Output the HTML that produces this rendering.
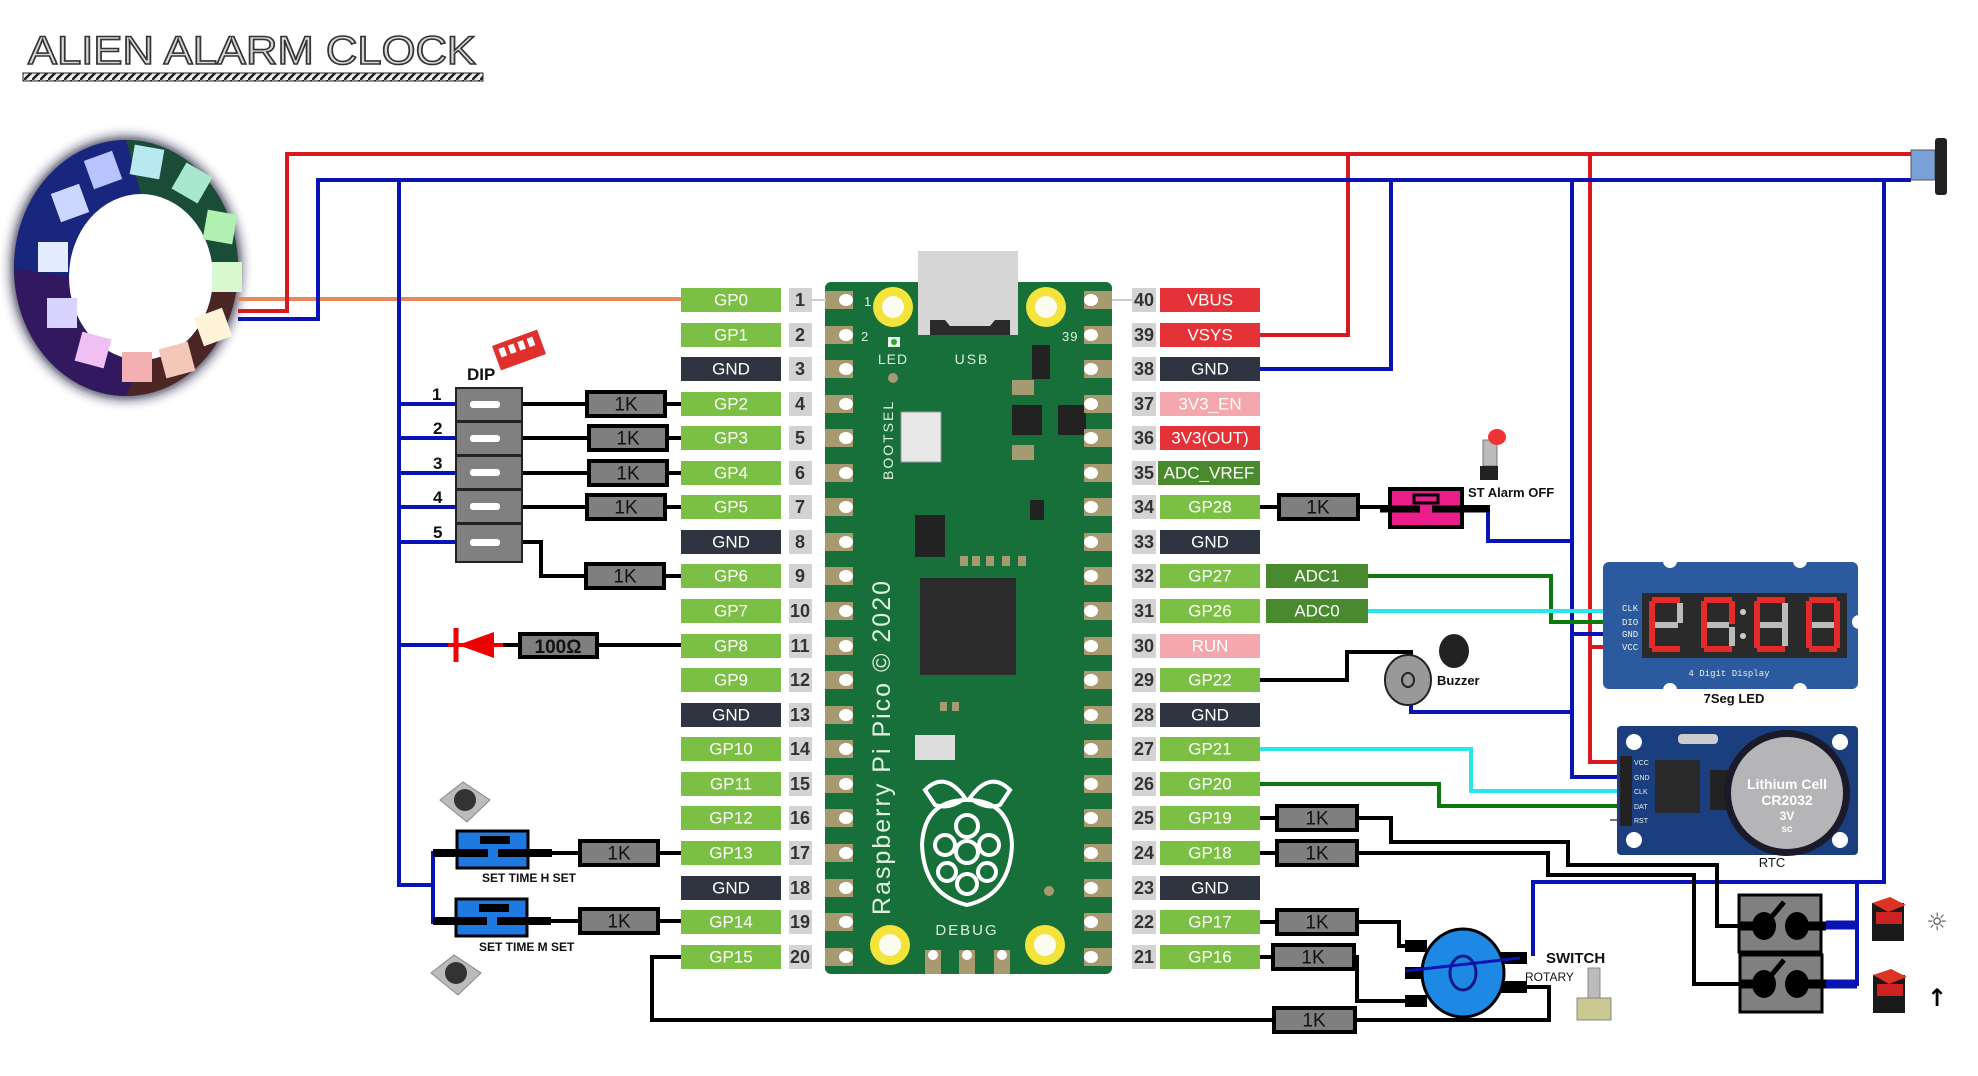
<!DOCTYPE html>
<html><head><meta charset="utf-8"><style>
html,body{margin:0;padding:0;background:#fff;}
svg{display:block;}
.pl{font-family:"Liberation Sans",sans-serif;font-size:17px;fill:#fff;text-anchor:middle;dominant-baseline:central;}
.pn{font-family:"Liberation Sans",sans-serif;font-size:18px;font-weight:bold;fill:#333;text-anchor:middle;dominant-baseline:central;}
.rs{font-family:"Liberation Sans",sans-serif;font-size:19px;fill:#111;text-anchor:middle;dominant-baseline:central;}
.bk{font-family:"Liberation Sans",sans-serif;font-weight:bold;fill:#111;}
.w{fill:none;stroke-width:4;stroke-linejoin:miter;}
</style></head><body>
<svg width="1978" height="1076" viewBox="0 0 1978 1076" xmlns="http://www.w3.org/2000/svg">
<defs>
<filter id="bl" x="-20%" y="-20%" width="140%" height="140%"><feGaussianBlur stdDeviation="6"/></filter>
<pattern id="hatch" width="8" height="8" patternUnits="userSpaceOnUse"><rect width="8" height="8" fill="#eee"/><path d="M0 8 L8 0" stroke="#222" stroke-width="2.5"/></pattern>
</defs>

<!-- Title -->
<text x="28" y="64" font-family="Liberation Sans, sans-serif" font-size="40" textLength="448" lengthAdjust="spacingAndGlyphs" fill="#d8d8d8" stroke="#333" stroke-width="1.6">ALIEN ALARM CLOCK</text>
<rect x="23" y="73" width="460" height="8" fill="url(#hatch)" stroke="#222" stroke-width="1"/>

<!-- LED ring -->
<g>
<ellipse cx="126" cy="268" rx="114" ry="130" fill="#1a1a3a" filter="url(#bl)"/>
<ellipse cx="126" cy="268" rx="112" ry="128" fill="#141433"/>
<path d="M126 140 A112 128 0 0 1 238 268 L213 268 A72 83 0 0 0 141 195 Z" fill="#1c5a3a" opacity="0.8"/>
<path d="M238 268 A112 128 0 0 1 126 396 L141 360 A72 83 0 0 0 213 268 Z" fill="#5a2a20" opacity="0.8"/>
<path d="M126 396 A112 128 0 0 1 14 268 L69 277 A72 83 0 0 0 141 360 Z" fill="#3a1a6a" opacity="0.8"/>
<path d="M14 268 A112 128 0 0 1 126 140 L141 195 A72 83 0 0 0 69 277 Z" fill="#1a2a90" opacity="0.8"/>
<ellipse cx="141" cy="277" rx="72" ry="83" fill="#fff"/>
<g stroke="none">
<rect x="88" y="155" width="30" height="30" fill="#b8c4ff" transform="rotate(-20 103 170)"/>
<rect x="132" y="147" width="30" height="30" fill="#b8e8f0" transform="rotate(10 147 162)"/>
<rect x="177" y="168" width="30" height="30" fill="#a8e8d0" transform="rotate(30 192 183)"/>
<rect x="205" y="212" width="30" height="30" fill="#b0f0b0" transform="rotate(10 220 227)"/>
<rect x="212" y="262" width="30" height="30" fill="#d8f8d0"/>
<rect x="198" y="312" width="30" height="30" fill="#fff4d8" transform="rotate(-20 213 327)"/>
<rect x="162" y="345" width="30" height="30" fill="#f4c8b8" transform="rotate(-15 177 360)"/>
<rect x="122" y="352" width="30" height="30" fill="#f4b0b0"/>
<rect x="78" y="335" width="30" height="30" fill="#f0c0f4" transform="rotate(15 93 350)"/>
<rect x="47" y="298" width="30" height="30" fill="#d8d4ff"/>
<rect x="38" y="242" width="30" height="30" fill="#e4ecff"/>
<rect x="55" y="188" width="30" height="30" fill="#ccd6ff" transform="rotate(-20 70 203)"/>
</g>
</g>

<!-- Wires -->
<polyline class="w" stroke="#e8875a" points="238,299 681,299"/>
<polyline class="w" stroke="#d71920" points="238,311 287,311 287,154 1915,154"/>
<polyline class="w" stroke="#d71920" points="1348,154 1348,335 1259,335"/>
<polyline class="w" stroke="#d71920" points="1590,154 1590,762 1622,762"/>
<polyline class="w" stroke="#d71920" stroke-width="5" points="1590,647 1625,647"/>
<polyline class="w" stroke="#0a14b4" points="238,319 318,319 318,180 1911,180"/>
<polyline class="w" stroke="#0a14b4" points="1391,180 1391,369 1259,369"/>
<polyline class="w" stroke="#0a14b4" points="1572,180 1572,777 1622,777"/>
<polyline class="w" stroke="#0a14b4" stroke-width="5" points="1572,634 1625,634"/>
<polyline class="w" stroke="#0a14b4" points="1488,507 1488,541 1572,541"/>
<polyline class="w" stroke="#0a14b4" points="1411,700 1411,712 1572,712"/>
<polyline class="w" stroke="#0a14b4" points="399,180 399,885 433,885"/>
<polyline class="w" stroke="#0a14b4" points="433,851 433,924"/>
<g class="w" stroke="#0a14b4">
<line x1="399" y1="404" x2="456" y2="404"/><line x1="399" y1="438" x2="456" y2="438"/>
<line x1="399" y1="473" x2="456" y2="473"/><line x1="399" y1="507" x2="456" y2="507"/>
<line x1="399" y1="542" x2="456" y2="542"/><line x1="399" y1="645" x2="452" y2="645"/>
</g>
<polyline class="w" stroke="#0a14b4" points="1884,180 1884,882 1533,882 1533,956"/>
<polyline class="w" stroke="#0a14b4" points="1857,882 1857,986"/>
<line x1="1826" y1="925" x2="1857" y2="925" stroke="#0a14b4" stroke-width="9"/>
<line x1="1826" y1="984" x2="1857" y2="984" stroke="#0a14b4" stroke-width="9"/>
<polyline class="w" stroke="#0a7a0a" points="1368,576 1551,576 1551,622 1625,622"/>
<polyline class="w" stroke="#0a7a0a" points="1259,784 1439,784 1439,806 1622,806"/>
<polyline class="w" stroke="#27e6f0" points="1368,611 1625,611"/>
<polyline class="w" stroke="#27e6f0" points="1259,749 1471,749 1471,791 1622,791"/>
<line x1="1610" y1="820" x2="1622" y2="820" stroke="#777" stroke-width="2"/>

<!-- black wires -->
<g class="w" stroke="#000">
<polyline points="1259,507 1279,507"/><polyline points="1358,507 1390,507"/><polyline points="1462,507 1490,507"/>
<polyline points="1259,680 1347,680 1347,652 1411,652 1411,660"/>
<polyline points="1259,818 1277,818"/><polyline points="1357,818 1391,818 1391,842 1568,842 1568,865 1717,865 1717,926 1740,926"/>
<polyline points="1259,853 1277,853"/><polyline points="1357,853 1548,853 1548,875 1694,875 1694,984 1740,984"/>
<polyline points="1259,922 1277,922"/><polyline points="1357,922 1399,922 1399,946 1420,946"/>
<polyline points="1259,957 1273,957"/><polyline points="1354,957 1357,957 1357,1001 1420,1001"/>
<polyline points="681,957 652,957 652,1020 1274,1020"/><polyline points="1355,1020 1549,1020 1549,987 1520,987"/>
<polyline points="522,404 587,404"/><polyline points="665,404 681,404"/>
<polyline points="522,438 589,438"/><polyline points="667,438 681,438"/>
<polyline points="522,473 589,473"/><polyline points="667,473 681,473"/>
<polyline points="522,507 587,507"/><polyline points="665,507 681,507"/>
<polyline points="522,542 541,542 541,576 586,576"/><polyline points="664,576 681,576"/>
<polyline points="497,645 520,645"/><polyline points="597,645 681,645"/>
<polyline points="528,853 580,853"/><polyline points="658,853 681,853"/>
<polyline points="528,921 580,921"/><polyline points="658,921 681,921"/>
</g>

<!-- Resistors -->
<g fill="#7f7f7f" stroke="#000" stroke-width="4">
<rect x="587" y="392" width="78" height="24"/><rect x="589" y="426" width="78" height="24"/>
<rect x="589" y="461" width="78" height="24"/><rect x="587" y="495" width="78" height="24"/>
<rect x="586" y="564" width="78" height="24"/><rect x="520" y="634" width="77" height="23"/>
<rect x="580" y="841" width="78" height="24"/><rect x="580" y="909" width="78" height="24"/>
<rect x="1279" y="495" width="79" height="24"/>
<rect x="1277" y="806" width="80" height="24"/><rect x="1277" y="841" width="80" height="24"/>
<rect x="1277" y="910" width="80" height="24"/><rect x="1273" y="945" width="81" height="24"/>
<rect x="1274" y="1008" width="81" height="24"/>
</g>
<g class="rs">
<text x="626" y="405">1K</text><text x="628" y="439">1K</text><text x="628" y="474">1K</text><text x="626" y="508">1K</text>
<text x="625" y="577">1K</text><text x="619" y="854">1K</text><text x="619" y="922">1K</text>
<text x="1318" y="508">1K</text><text x="1317" y="819">1K</text><text x="1317" y="854">1K</text>
<text x="1317" y="923">1K</text><text x="1313" y="958">1K</text><text x="1314" y="1021">1K</text>
</g>
<text x="558" y="653" class="bk" font-size="19" text-anchor="middle">100Ω</text>

<!-- Diode -->
<line x1="448" y1="645" x2="503" y2="645" stroke="#e00" stroke-width="4"/>
<polygon points="458,645 494,632 494,658" fill="#e00"/>
<line x1="456" y1="628" x2="456" y2="662" stroke="#e00" stroke-width="5"/>

<!-- DIP switch -->
<g fill="#808080" stroke="#222" stroke-width="2">
<rect x="456" y="388" width="66" height="33"/><rect x="456" y="422" width="66" height="33"/>
<rect x="456" y="456" width="66" height="33"/><rect x="456" y="490" width="66" height="33"/>
<rect x="456" y="524" width="66" height="38"/>
</g>
<g fill="#fff"><rect x="470" y="401" width="30" height="7" rx="3"/><rect x="470" y="435" width="30" height="7" rx="3"/><rect x="470" y="469" width="30" height="7" rx="3"/><rect x="470" y="503" width="30" height="7" rx="3"/><rect x="470" y="539" width="30" height="7" rx="3"/></g>
<g class="bk" font-size="17"><text x="432" y="400">1</text><text x="433" y="434">2</text><text x="433" y="469">3</text><text x="433" y="503">4</text><text x="433" y="538">5</text></g>
<text x="467" y="380" class="bk" font-size="17">DIP</text>
<g transform="rotate(-20 519 350)"><rect x="495" y="337" width="48" height="26" fill="#e0302e"/><g fill="#fff"><rect x="500" y="342" width="6" height="9"/><rect x="510" y="342" width="6" height="9"/><rect x="520" y="342" width="6" height="9"/><rect x="530" y="342" width="6" height="9"/></g></g>

<!-- Buttons -->
<rect x="457" y="831" width="71" height="37" fill="#1e7ae0" stroke="#000" stroke-width="3"/>
<rect x="480" y="836" width="30" height="8" fill="#000"/>
<line x1="433" y1="853" x2="488" y2="853" stroke="#000" stroke-width="8"/><line x1="498" y1="853" x2="552" y2="853" stroke="#000" stroke-width="8"/>
<rect x="456" y="899" width="71" height="37" fill="#1e7ae0" stroke="#000" stroke-width="3"/>
<rect x="479" y="904" width="30" height="8" fill="#000"/>
<line x1="433" y1="921" x2="487" y2="921" stroke="#000" stroke-width="8"/><line x1="497" y1="921" x2="551" y2="921" stroke="#000" stroke-width="8"/>
<text x="482" y="882" class="bk" font-size="12">SET TIME  H SET</text>
<text x="479" y="951" class="bk" font-size="12">SET TIME  M SET</text>
<g><polygon points="440,800 463,782 490,800 467,822" fill="#bbb" stroke="#888"/><circle cx="465" cy="800" r="11" fill="#333"/></g>
<g><polygon points="431,973 454,955 481,973 458,995" fill="#bbb" stroke="#888"/><circle cx="456" cy="973" r="11" fill="#333"/></g>

<!-- Pico board -->
<rect x="825" y="282" width="287" height="692" rx="6" fill="#17703a"/>
<rect x="918" y="251" width="100" height="84" fill="#d6d6d6"/>
<path d="M930 335 L930 320 L945 320 L950 326 L990 326 L995 320 L1010 320 L1010 335 Z" fill="#2a2a2a"/>
<g fill="#f3e33a"><circle cx="893" cy="307" r="20"/><circle cx="1046" cy="307" r="20"/><circle cx="890" cy="945" r="20"/><circle cx="1045" cy="945" r="20"/></g>
<g fill="#fbfbf0"><circle cx="893" cy="307" r="11"/><circle cx="1046" cy="307" r="11"/><circle cx="890" cy="945" r="11"/><circle cx="1045" cy="945" r="11"/></g>
<rect x="920" y="578" width="96" height="97" fill="#2b2b2b"/>
<rect x="901" y="412" width="40" height="50" fill="#e8e8e8" stroke="#999"/>
<rect x="915" y="735" width="40" height="25" fill="#ddd"/>
<g fill="#222"><rect x="1032" y="345" width="18" height="34"/><rect x="1012" y="405" width="30" height="30"/><rect x="1058" y="405" width="28" height="30"/><rect x="915" y="515" width="30" height="42"/><rect x="1030" y="500" width="14" height="20"/></g>
<g fill="#a89a70"><rect x="1012" y="380" width="22" height="15"/><rect x="1012" y="445" width="22" height="15"/><rect x="960" y="556" width="8" height="10"/><rect x="972" y="556" width="8" height="10"/><rect x="986" y="556" width="8" height="10"/><rect x="1002" y="556" width="8" height="10"/><rect x="1018" y="556" width="8" height="10"/><rect x="940" y="702" width="7" height="9"/><rect x="952" y="702" width="7" height="9"/></g>
<text transform="translate(890 915) rotate(-90)" font-family="Liberation Sans, sans-serif" font-size="25" fill="#dff0df" letter-spacing="2">Raspberry Pi Pico © 2020</text>
<text transform="translate(893 480) rotate(-90)" font-family="Liberation Sans, sans-serif" font-size="14" fill="#dff0df" letter-spacing="2">BOOTSEL</text>
<text x="893" y="364" font-family="Liberation Sans, sans-serif" font-size="14" fill="#dff0df" text-anchor="middle" letter-spacing="1">LED</text>
<rect x="888" y="337" width="12" height="10" fill="#eee"/><circle cx="894" cy="342" r="3" fill="#2a2"/>
<circle cx="893" cy="378" r="5" fill="#a89a70"/>
<text x="972" y="364" font-family="Liberation Sans, sans-serif" font-size="14" fill="#dff0df" text-anchor="middle" letter-spacing="2">USB</text>
<text x="967" y="935" font-family="Liberation Sans, sans-serif" font-size="15" fill="#dff0df" text-anchor="middle" letter-spacing="2">DEBUG</text>
<text x="864" y="306" font-family="Liberation Sans, sans-serif" font-size="13" fill="#dff0df">1</text>
<text x="861" y="341" font-family="Liberation Sans, sans-serif" font-size="13" fill="#dff0df">2</text>
<text x="1062" y="341" font-family="Liberation Sans, sans-serif" font-size="13" fill="#dff0df" letter-spacing="1">39</text>
<circle cx="1049" cy="891" r="5" fill="#a89a70"/>
<g fill="#a89a70"><rect x="925" y="950" width="16" height="24"/><rect x="959" y="950" width="16" height="24"/><rect x="994" y="950" width="16" height="24"/></g>
<g fill="#fff"><circle cx="933" cy="955" r="5"/><circle cx="967" cy="955" r="5"/><circle cx="1002" cy="955" r="5"/></g>
<!-- raspberry logo -->
<g fill="none" stroke="#fff" stroke-width="4">
<path d="M925 790 Q945 770 965 798 Q950 810 935 805 Z"/>
<path d="M1010 790 Q990 770 970 798 Q985 810 1000 805 Z"/>
<path d="M967 800 Q1010 800 1012 845 Q1010 895 967 905 Q924 895 922 845 Q924 800 967 800 Z"/>
<circle cx="967" cy="826" r="11"/><circle cx="945" cy="845" r="10"/><circle cx="989" cy="845" r="10"/><circle cx="967" cy="852" r="11"/><circle cx="947" cy="872" r="9"/><circle cx="987" cy="872" r="9"/><circle cx="967" cy="884" r="10"/>
</g>

<!-- Pads -->
<g id="padsL" fill="#a89a70">
<rect x="825" y="291" width="28" height="18"/><rect x="825" y="326" width="28" height="18"/><rect x="825" y="360" width="28" height="18"/><rect x="825" y="395" width="28" height="18"/><rect x="825" y="429" width="28" height="18"/><rect x="825" y="464" width="28" height="18"/><rect x="825" y="498" width="28" height="18"/><rect x="825" y="533" width="28" height="18"/><rect x="825" y="567" width="28" height="18"/><rect x="825" y="602" width="28" height="18"/><rect x="825" y="637" width="28" height="18"/><rect x="825" y="671" width="28" height="18"/><rect x="825" y="706" width="28" height="18"/><rect x="825" y="740" width="28" height="18"/><rect x="825" y="775" width="28" height="18"/><rect x="825" y="809" width="28" height="18"/><rect x="825" y="844" width="28" height="18"/><rect x="825" y="879" width="28" height="18"/><rect x="825" y="913" width="28" height="18"/><rect x="825" y="948" width="28" height="18"/>
</g>
<use href="#padsL" x="259"/>
<g fill="#fff">
<ellipse cx="846" cy="300" rx="7" ry="6"/><ellipse cx="846" cy="335" rx="7" ry="6"/><ellipse cx="846" cy="369" rx="7" ry="6"/><ellipse cx="846" cy="404" rx="7" ry="6"/><ellipse cx="846" cy="438" rx="7" ry="6"/><ellipse cx="846" cy="473" rx="7" ry="6"/><ellipse cx="846" cy="507" rx="7" ry="6"/><ellipse cx="846" cy="542" rx="7" ry="6"/><ellipse cx="846" cy="576" rx="7" ry="6"/><ellipse cx="846" cy="611" rx="7" ry="6"/><ellipse cx="846" cy="646" rx="7" ry="6"/><ellipse cx="846" cy="680" rx="7" ry="6"/><ellipse cx="846" cy="715" rx="7" ry="6"/><ellipse cx="846" cy="749" rx="7" ry="6"/><ellipse cx="846" cy="784" rx="7" ry="6"/><ellipse cx="846" cy="818" rx="7" ry="6"/><ellipse cx="846" cy="853" rx="7" ry="6"/><ellipse cx="846" cy="888" rx="7" ry="6"/><ellipse cx="846" cy="922" rx="7" ry="6"/><ellipse cx="846" cy="957" rx="7" ry="6"/>
</g>
<g fill="#fff" transform="translate(245 0)">
<ellipse cx="846" cy="300" rx="7" ry="6"/><ellipse cx="846" cy="335" rx="7" ry="6"/><ellipse cx="846" cy="369" rx="7" ry="6"/><ellipse cx="846" cy="404" rx="7" ry="6"/><ellipse cx="846" cy="438" rx="7" ry="6"/><ellipse cx="846" cy="473" rx="7" ry="6"/><ellipse cx="846" cy="507" rx="7" ry="6"/><ellipse cx="846" cy="542" rx="7" ry="6"/><ellipse cx="846" cy="576" rx="7" ry="6"/><ellipse cx="846" cy="611" rx="7" ry="6"/><ellipse cx="846" cy="646" rx="7" ry="6"/><ellipse cx="846" cy="680" rx="7" ry="6"/><ellipse cx="846" cy="715" rx="7" ry="6"/><ellipse cx="846" cy="749" rx="7" ry="6"/><ellipse cx="846" cy="784" rx="7" ry="6"/><ellipse cx="846" cy="818" rx="7" ry="6"/><ellipse cx="846" cy="853" rx="7" ry="6"/><ellipse cx="846" cy="888" rx="7" ry="6"/><ellipse cx="846" cy="922" rx="7" ry="6"/><ellipse cx="846" cy="957" rx="7" ry="6"/>
</g>

<!-- Left pin labels -->
<g>
<g fill="#7cbf45">
<rect x="681" y="288" width="100" height="24"/><rect x="681" y="323" width="100" height="24"/><rect x="681" y="392" width="100" height="24"/><rect x="681" y="426" width="100" height="24"/><rect x="681" y="461" width="100" height="24"/><rect x="681" y="495" width="100" height="24"/><rect x="681" y="564" width="100" height="24"/><rect x="681" y="599" width="100" height="24"/><rect x="681" y="634" width="100" height="24"/><rect x="681" y="668" width="100" height="24"/><rect x="681" y="737" width="100" height="24"/><rect x="681" y="772" width="100" height="24"/><rect x="681" y="806" width="100" height="24"/><rect x="681" y="841" width="100" height="24"/><rect x="681" y="910" width="100" height="24"/><rect x="681" y="945" width="100" height="24"/>
</g>
<g fill="#2f3540"><rect x="681" y="357" width="100" height="24"/><rect x="681" y="530" width="100" height="24"/><rect x="681" y="703" width="100" height="24"/><rect x="681" y="876" width="100" height="24"/></g>
<g fill="#d3d3d3">
<rect x="789" y="288" width="23" height="24"/><rect x="789" y="323" width="23" height="24"/><rect x="789" y="357" width="23" height="24"/><rect x="789" y="392" width="23" height="24"/><rect x="789" y="426" width="23" height="24"/><rect x="789" y="461" width="23" height="24"/><rect x="789" y="495" width="23" height="24"/><rect x="789" y="530" width="23" height="24"/><rect x="789" y="564" width="23" height="24"/><rect x="789" y="599" width="23" height="24"/><rect x="789" y="634" width="23" height="24"/><rect x="789" y="668" width="23" height="24"/><rect x="789" y="703" width="23" height="24"/><rect x="789" y="737" width="23" height="24"/><rect x="789" y="772" width="23" height="24"/><rect x="789" y="806" width="23" height="24"/><rect x="789" y="841" width="23" height="24"/><rect x="789" y="876" width="23" height="24"/><rect x="789" y="910" width="23" height="24"/><rect x="789" y="945" width="23" height="24"/>
</g>
<g class="pl">
<text x="731" y="300">GP0</text><text x="731" y="335">GP1</text><text x="731" y="369">GND</text><text x="731" y="404">GP2</text><text x="731" y="438">GP3</text><text x="731" y="473">GP4</text><text x="731" y="507">GP5</text><text x="731" y="542">GND</text><text x="731" y="576">GP6</text><text x="731" y="611">GP7</text><text x="731" y="646">GP8</text><text x="731" y="680">GP9</text><text x="731" y="715">GND</text><text x="731" y="749">GP10</text><text x="731" y="784">GP11</text><text x="731" y="818">GP12</text><text x="731" y="853">GP13</text><text x="731" y="888">GND</text><text x="731" y="922">GP14</text><text x="731" y="957">GP15</text>
</g>
<g class="pn">
<text x="800" y="300">1</text><text x="800" y="335">2</text><text x="800" y="369">3</text><text x="800" y="404">4</text><text x="800" y="438">5</text><text x="800" y="473">6</text><text x="800" y="507">7</text><text x="800" y="542">8</text><text x="800" y="576">9</text><text x="800" y="611">10</text><text x="800" y="646">11</text><text x="800" y="680">12</text><text x="800" y="715">13</text><text x="800" y="749">14</text><text x="800" y="784">15</text><text x="800" y="818">16</text><text x="800" y="853">17</text><text x="800" y="888">18</text><text x="800" y="922">19</text><text x="800" y="957">20</text>
</g>
<g stroke="#ccc" stroke-width="2"><line x1="812" y1="300" x2="826" y2="300"/><line x1="1112" y1="300" x2="1132" y2="300"/></g>
</g>

<!-- Right pin labels -->
<g>
<g fill="#e53238"><rect x="1160" y="288" width="100" height="24"/><rect x="1160" y="323" width="100" height="24"/><rect x="1160" y="426" width="100" height="24"/></g>
<g fill="#f4a7ac"><rect x="1160" y="392" width="100" height="24"/><rect x="1160" y="634" width="100" height="24"/></g>
<rect x="1158" y="461" width="102" height="24" fill="#4a8a2e"/>
<g fill="#2f3540"><rect x="1160" y="357" width="100" height="24"/><rect x="1160" y="530" width="100" height="24"/><rect x="1160" y="703" width="100" height="24"/><rect x="1160" y="876" width="100" height="24"/></g>
<g fill="#7cbf45"><rect x="1160" y="495" width="100" height="24"/><rect x="1160" y="564" width="100" height="24"/><rect x="1160" y="599" width="100" height="24"/><rect x="1160" y="668" width="100" height="24"/><rect x="1160" y="737" width="100" height="24"/><rect x="1160" y="772" width="100" height="24"/><rect x="1160" y="806" width="100" height="24"/><rect x="1160" y="841" width="100" height="24"/><rect x="1160" y="910" width="100" height="24"/><rect x="1160" y="945" width="100" height="24"/></g>
<g fill="#4a8a2e"><rect x="1266" y="564" width="102" height="24"/><rect x="1266" y="599" width="102" height="24"/></g>
<g fill="#d3d3d3">
<rect x="1132" y="288" width="24" height="24"/><rect x="1132" y="323" width="24" height="24"/><rect x="1132" y="357" width="24" height="24"/><rect x="1132" y="392" width="24" height="24"/><rect x="1132" y="426" width="24" height="24"/><rect x="1132" y="461" width="24" height="24"/><rect x="1132" y="495" width="24" height="24"/><rect x="1132" y="530" width="24" height="24"/><rect x="1132" y="564" width="24" height="24"/><rect x="1132" y="599" width="24" height="24"/><rect x="1132" y="634" width="24" height="24"/><rect x="1132" y="668" width="24" height="24"/><rect x="1132" y="703" width="24" height="24"/><rect x="1132" y="737" width="24" height="24"/><rect x="1132" y="772" width="24" height="24"/><rect x="1132" y="806" width="24" height="24"/><rect x="1132" y="841" width="24" height="24"/><rect x="1132" y="876" width="24" height="24"/><rect x="1132" y="910" width="24" height="24"/><rect x="1132" y="945" width="24" height="24"/>
</g>
<g class="pl">
<text x="1210" y="300">VBUS</text><text x="1210" y="335">VSYS</text><text x="1210" y="369">GND</text><text x="1210" y="404">3V3_EN</text><text x="1210" y="438">3V3(OUT)</text><text x="1209" y="473">ADC_VREF</text><text x="1210" y="507">GP28</text><text x="1210" y="542">GND</text><text x="1210" y="576">GP27</text><text x="1210" y="611">GP26</text><text x="1210" y="646">RUN</text><text x="1210" y="680">GP22</text><text x="1210" y="715">GND</text><text x="1210" y="749">GP21</text><text x="1210" y="784">GP20</text><text x="1210" y="818">GP19</text><text x="1210" y="853">GP18</text><text x="1210" y="888">GND</text><text x="1210" y="922">GP17</text><text x="1210" y="957">GP16</text>
<text x="1317" y="576">ADC1</text><text x="1317" y="611">ADC0</text>
</g>
<g class="pn">
<text x="1144" y="300">40</text><text x="1144" y="335">39</text><text x="1144" y="369">38</text><text x="1144" y="404">37</text><text x="1144" y="438">36</text><text x="1144" y="473">35</text><text x="1144" y="507">34</text><text x="1144" y="542">33</text><text x="1144" y="576">32</text><text x="1144" y="611">31</text><text x="1144" y="646">30</text><text x="1144" y="680">29</text><text x="1144" y="715">28</text><text x="1144" y="749">27</text><text x="1144" y="784">26</text><text x="1144" y="818">25</text><text x="1144" y="853">24</text><text x="1144" y="888">23</text><text x="1144" y="922">22</text><text x="1144" y="957">21</text>
</g>
</g>

<!-- ST Alarm button -->
<rect x="1390" y="489" width="72" height="38" fill="#ec1e8c" stroke="#000" stroke-width="4"/>
<rect x="1414" y="495" width="24" height="8" fill="none" stroke="#000" stroke-width="3"/>
<line x1="1380" y1="509" x2="1420" y2="509" stroke="#000" stroke-width="7"/>
<line x1="1432" y1="509" x2="1490" y2="509" stroke="#000" stroke-width="7"/>
<text x="1468" y="497" class="bk" font-size="13">ST Alarm OFF</text>
<rect x="1483" y="440" width="14" height="26" fill="#bbb" stroke="#777"/>
<rect x="1480" y="466" width="18" height="14" fill="#222"/>
<ellipse cx="1497" cy="437" rx="9" ry="8" fill="#e33"/>

<!-- Buzzer -->
<ellipse cx="1408" cy="680" rx="23" ry="25" fill="#999" stroke="#222" stroke-width="2"/>
<ellipse cx="1408" cy="680" rx="6" ry="7" fill="none" stroke="#222" stroke-width="2"/>
<ellipse cx="1454" cy="651" rx="15" ry="17" fill="#222"/>
<text x="1437" y="685" class="bk" font-size="13">Buzzer</text>

<!-- 7 segment -->
<rect x="1603" y="562" width="255" height="127" rx="6" fill="#2c5a9e"/>
<g fill="#fff"><circle cx="1670" cy="561" r="7"/><circle cx="1800" cy="561" r="7"/><circle cx="1670" cy="690" r="7"/><circle cx="1800" cy="690" r="7"/><circle cx="1859" cy="622" r="7"/></g>
<rect x="1642" y="593" width="205" height="65" fill="#2a2a2a"/>
<g fill="none" stroke-width="6" stroke-linecap="butt">
<g stroke="#e52a2a"><path d="M1652 600 H1680 M1652 601 V648 M1652 649 H1680"/><path d="M1704 600 H1732 M1704 601 V648 M1704 649 H1732 M1732 601 V624"/><path d="M1757 600 H1785 M1757 601 V648 M1757 649 H1785"/><path d="M1809 600 H1837 M1809 601 V648 M1809 649 H1837 M1837 601 V648"/></g>
<g stroke="#bbb"><path d="M1655 625 H1678 M1680 603 V623"/><path d="M1707 625 H1729 M1732 627 V646"/><path d="M1760 625 H1782 M1785 603 V646"/><path d="M1812 625 H1834"/></g>
</g>
<g fill="#ccc"><circle cx="1743" cy="612" r="3"/><circle cx="1743" cy="636" r="3"/></g>
<g font-family="Liberation Mono, monospace" font-size="9" fill="#eee"><text x="1622" y="611">CLK</text><text x="1622" y="625">DIO</text><text x="1622" y="637">GND</text><text x="1622" y="650">VCC</text></g>
<text x="1729" y="676" font-family="Liberation Mono, monospace" font-size="9" fill="#eee" text-anchor="middle">4 Digit Display</text>
<text x="1734" y="703" class="bk" font-size="13" text-anchor="middle">7Seg LED</text>

<!-- RTC -->
<rect x="1617" y="726" width="241" height="129" rx="4" fill="#1b3f7e"/>
<g fill="#fff"><circle cx="1634" cy="742" r="8"/><circle cx="1840" cy="742" r="8"/><circle cx="1634" cy="840" r="8"/><circle cx="1840" cy="840" r="8"/></g>
<rect x="1655" y="760" width="45" height="53" fill="#2a2a2a"/>
<rect x="1678" y="734" width="40" height="10" rx="4" fill="#ccc"/>
<rect x="1710" y="770" width="20" height="40" fill="#222"/>
<circle cx="1787" cy="793" r="63" fill="#1a1a2a"/>
<circle cx="1787" cy="793" r="56" fill="#b5b5b8"/>
<g fill="#fff" font-family="Liberation Sans, sans-serif" text-anchor="middle" font-weight="bold"><text x="1787" y="789" font-size="14">Lithium Cell</text><text x="1787" y="805" font-size="14">CR2032</text><text x="1787" y="820" font-size="12">3V</text><text x="1787" y="832" font-size="10">sc</text></g>
<g fill="#222"><rect x="1620" y="756" width="12" height="70"/></g>
<g font-family="Liberation Sans, sans-serif" font-size="7" fill="#eee"><text x="1634" y="765">VCC</text><text x="1634" y="780">GND</text><text x="1634" y="794">CLK</text><text x="1634" y="809">DAT</text><text x="1634" y="823">RST</text></g>
<text x="1772" y="867" font-family="Liberation Sans, sans-serif" font-size="13" fill="#111" text-anchor="middle">RTC</text>

<!-- Rotary encoder -->
<g fill="#000"><rect x="1405" y="940" width="22" height="12"/><rect x="1405" y="967" width="22" height="12"/><rect x="1405" y="995" width="22" height="12"/><rect x="1500" y="952" width="27" height="12"/><rect x="1500" y="981" width="27" height="12"/></g>
<ellipse cx="1463" cy="973" rx="41" ry="44" fill="#1e88e5" stroke="#000" stroke-width="3"/>
<ellipse cx="1463" cy="973" rx="13" ry="17" fill="none" stroke="#0a1a80" stroke-width="3"/>
<line x1="1405" y1="971" x2="1520" y2="958" stroke="#0a14b4" stroke-width="3"/>
<text x="1546" y="963" class="bk" font-size="15">SWITCH</text>
<text x="1525" y="981" font-family="Liberation Sans, sans-serif" font-size="12" fill="#111">ROTARY</text>
<rect x="1588" y="968" width="12" height="30" fill="#bbb" stroke="#888"/>
<rect x="1577" y="998" width="34" height="22" fill="#c8c890" stroke="#888"/>

<!-- toggle switches -->
<g fill="#808080" stroke="#000" stroke-width="3"><rect x="1739" y="895" width="82" height="57"/><rect x="1740" y="955" width="82" height="57"/></g>
<g fill="#000">
<line x1="1740" y1="926" x2="1765" y2="926" stroke="#000" stroke-width="9"/><line x1="1795" y1="926" x2="1826" y2="926" stroke="#000" stroke-width="9"/>
<ellipse cx="1764" cy="926" rx="12" ry="14"/><ellipse cx="1797" cy="926" rx="12" ry="14"/>
<line x1="1764" y1="926" x2="1784" y2="902" stroke="#000" stroke-width="5"/>
<line x1="1740" y1="984" x2="1765" y2="984" stroke="#000" stroke-width="9"/><line x1="1795" y1="984" x2="1826" y2="984" stroke="#000" stroke-width="9"/>
<ellipse cx="1764" cy="984" rx="12" ry="14"/><ellipse cx="1797" cy="984" rx="12" ry="14"/>
<line x1="1764" y1="984" x2="1784" y2="960" stroke="#000" stroke-width="5"/>
</g>
<g><rect x="1872" y="903" width="32" height="38" fill="#1a1a1a"/><polygon points="1872,903 1890,897 1906,905 1888,912" fill="#d32"/><rect x="1876" y="912" width="26" height="12" fill="#c22"/></g>
<g><rect x="1873" y="975" width="32" height="38" fill="#1a1a1a"/><polygon points="1873,975 1891,969 1907,977 1889,984" fill="#d32"/><rect x="1877" y="984" width="26" height="12" fill="#c22"/></g>
<text x="1937" y="930" font-family="DejaVu Sans, sans-serif" font-size="24" fill="#555" text-anchor="middle">☼</text>
<text x="1937" y="1006" font-family="DejaVu Sans, sans-serif" font-size="24" font-weight="bold" fill="#000" text-anchor="middle">↑</text>

<!-- USB connector -->
<rect x="1911" y="150" width="24" height="30" fill="#7aa0d8" stroke="#555"/>
<rect x="1935" y="138" width="12" height="57" rx="3" fill="#222"/>
</svg>
</body></html>
